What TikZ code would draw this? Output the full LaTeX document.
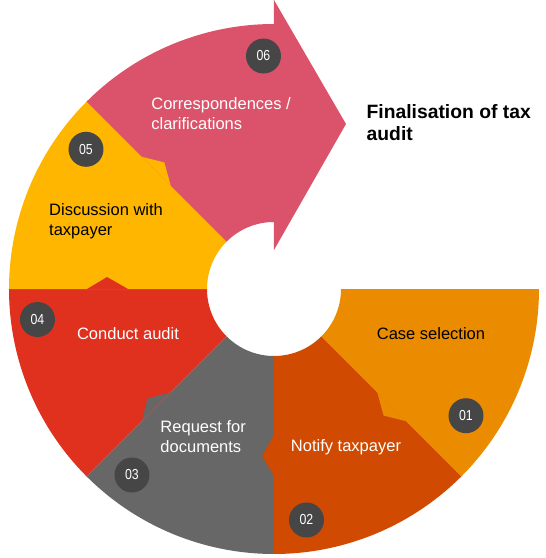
\documentclass[tikz,border=0pt]{standalone}
\usepackage{fontspec}
\setmainfont{Liberation Sans}
\newfontfamily\badgefont[FakeStretch=0.85]{Liberation Sans}
\definecolor{caseorange}{HTML}{EB8C00}
\definecolor{notifyorange}{HTML}{D04A02}
\definecolor{requestgrey}{HTML}{676767}
\definecolor{auditred}{HTML}{E0301E}
\definecolor{discussyellow}{HTML}{FFB600}
\definecolor{finalpink}{HTML}{DB536A}
\definecolor{badgegrey}{HTML}{464646}
\begin{document}
\begin{tikzpicture}[x=1pt,y=1pt,
  badge/.style={circle,fill=badgegrey,minimum size=35pt,inner sep=0pt,
    text=white,font=\badgefont\fontsize{14.5}{14.5}\selectfont},
  steplabel/.style={inner sep=0pt,align=left,font=\fontsize{16.5}{20}\selectfont},
  goallabel/.style={inner sep=0pt,align=left,font=\fontsize{19.3}{22.5}\selectfont\bfseries}]
\useasboundingbox (-274,-269) rectangle (272,289);
% ring segments
\fill[caseorange] (0:67) -- (0:265) arc[start angle=0,end angle=-45,radius=265] -- (-45:67) arc[start angle=-45,end angle=0,radius=67] -- cycle;
\fill[notifyorange] (-45:67) -- (-45:265) arc[start angle=-45,end angle=-90,radius=265] -- (-90:67) arc[start angle=-90,end angle=-45,radius=67] -- cycle;
\fill[requestgrey] (-90:67) -- (-90:265) arc[start angle=-90,end angle=-135,radius=265] -- (-135:67) arc[start angle=-135,end angle=-90,radius=67] -- cycle;
\fill[auditred] (-135:67) -- (-135:265) arc[start angle=-135,end angle=-180,radius=265] -- (-180:67) arc[start angle=-180,end angle=-135,radius=67] -- cycle;
\fill[discussyellow] (180:67) -- (180:265) arc[start angle=180,end angle=135,radius=265] -- (135:67) arc[start angle=135,end angle=180,radius=67] -- cycle;
\fill[finalpink] (135:67) -- (135:265) arc[start angle=135,end angle=90,radius=265] -- (90:67) arc[start angle=90,end angle=135,radius=67] -- cycle;
% arrow head
\fill[finalpink] (0,289) -- (72,165) -- (0,39) -- cycle;
% puzzle tabs
\fill[caseorange] (-45:146) -- (-49.1:167.4) -- (-45:187) -- cycle;
\fill[notifyorange] (-90:146) -- (-94.1:167.4) -- (-90:187) -- cycle;
\fill[requestgrey] (-135:146) -- (-139.1:167.4) -- (-135:187) -- cycle;
\fill[auditred] (180:146) -- (175.9:167.4) -- (180:187) -- cycle;
\fill[discussyellow] (135:146) -- (130.9:167.4) -- (135:187) -- cycle;
% labels
\node[steplabel] (case) at (157,-45) {Case selection};
\node[steplabel,text=white] (notify) at (72,-158) {Notify taxpayer};
\node[steplabel,text=white,anchor=west] (request) at (-113.7,-147.7) {Request for\\documents};
\node[steplabel,text=white] (audit) at (-146,-45) {Conduct audit};
\node[steplabel,anchor=west] (discuss) at (-225,67.3) {Discussion with\\taxpayer};
\node[steplabel,text=white,anchor=west] (corresp) at (-122.8,175.7) {Correspondences /\\clarifications};
\node[goallabel,anchor=west] (final) at (92.5,166.2) {Finalisation of tax\\audit};
% step numbers
\node[badge] (n1) at (192,-126.7) {01};
\node[badge] (n2) at (32.5,-231) {02};
\node[badge] (n3) at (-142,-186) {03};
\node[badge] (n4) at (-236.5,-30.5) {04};
\node[badge] (n5) at (-188,139.7) {05};
\node[badge] (n6) at (-10.5,233) {06};
\end{tikzpicture}
\end{document}
